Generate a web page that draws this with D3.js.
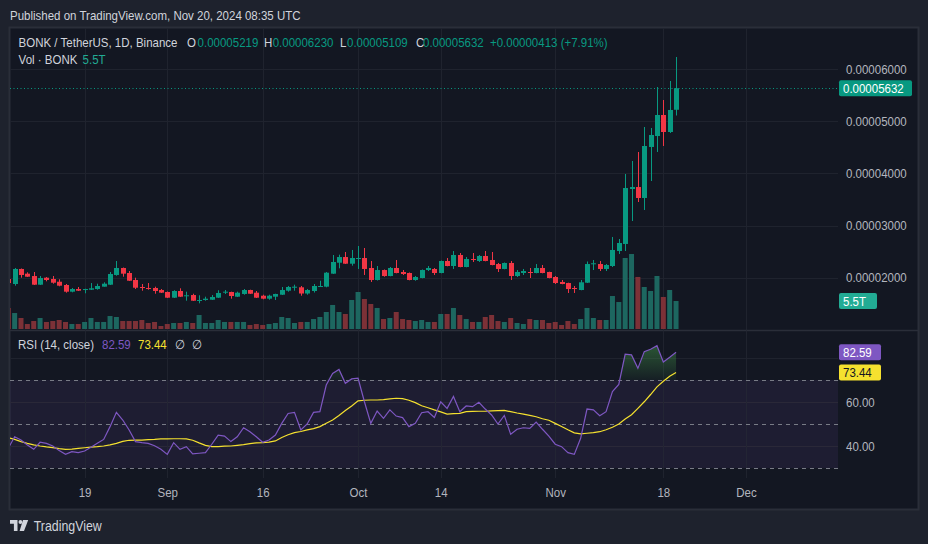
<!DOCTYPE html>
<html><head><meta charset="utf-8">
<script src="https://cdn.jsdelivr.net/npm/d3@7/dist/d3.min.js"></script>
<style>
html,body{margin:0;padding:0;background:#1e222d;}
svg{display:block;}
text{font-family:"Liberation Sans",Arial,sans-serif;}
</style></head><body>
<svg id="c" width="928" height="544"></svg>
<script>
// ---------------- DATA ----------------
const firstDay = new Date(Date.UTC(2024, 7, 7));   // Aug 7 2024
const lastDay  = new Date(Date.UTC(2024, 10, 20)); // Nov 20 2024

const open = [1.977e-5,1.881e-5,2.169e-5,2.079e-5,2.034e-5,1.868e-5,2.002e-5,1.977e-5,1.925e-5,1.862e-5,
1.734e-5,1.785e-5,1.780e-5,1.772e-5,1.785e-5,1.830e-5,1.868e-5,2.054e-5,2.188e-5,2.092e-5,
1.958e-5,1.824e-5,1.805e-5,1.805e-5,1.766e-5,1.728e-5,1.619e-5,1.747e-5,1.651e-5,1.670e-5,
1.561e-5,1.575e-5,1.580e-5,1.619e-5,1.715e-5,1.728e-5,1.638e-5,1.690e-5,1.766e-5,1.715e-5,
1.657e-5,1.600e-5,1.638e-5,1.676e-5,1.753e-5,1.810e-5,1.818e-5,1.699e-5,1.747e-5,1.830e-5,
1.830e-5,2.079e-5,2.289e-5,2.398e-5,2.270e-5,2.366e-5,2.379e-5,2.188e-5,1.958e-5,2.149e-5,
2.034e-5,2.188e-5,2.111e-5,2.092e-5,1.958e-5,1.996e-5,2.149e-5,2.169e-5,2.092e-5,2.322e-5,
2.226e-5,2.437e-5,2.207e-5,2.360e-5,2.322e-5,2.418e-5,2.341e-5,2.264e-5,2.169e-5,2.284e-5,
2.034e-5,2.092e-5,2.111e-5,2.092e-5,2.188e-5,2.111e-5,2.015e-5,1.920e-5,1.900e-5,1.805e-5,
1.766e-5,1.906e-5,2.264e-5,2.264e-5,2.169e-5,2.226e-5,2.513e-5,2.648e-5,3.701e-5,3.739e-5,
3.529e-5,4.506e-5,4.716e-5,5.119e-5,4.793e-5,5.219e-5];

const high = [1.996e-5,2.188e-5,2.178e-5,2.105e-5,2.111e-5,2.034e-5,2.015e-5,2.034e-5,1.971e-5,1.881e-5,
1.805e-5,1.824e-5,1.791e-5,1.900e-5,1.887e-5,1.914e-5,2.111e-5,2.322e-5,2.197e-5,2.130e-5,
2.002e-5,1.881e-5,1.900e-5,1.830e-5,1.785e-5,1.738e-5,1.761e-5,1.799e-5,1.734e-5,1.695e-5,
1.665e-5,1.638e-5,1.670e-5,1.761e-5,1.766e-5,1.734e-5,1.734e-5,1.785e-5,1.772e-5,1.747e-5,
1.676e-5,1.676e-5,1.695e-5,1.824e-5,1.843e-5,1.868e-5,1.843e-5,1.785e-5,1.881e-5,1.944e-5,
2.111e-5,2.437e-5,2.443e-5,2.494e-5,2.533e-5,2.609e-5,2.571e-5,2.322e-5,2.226e-5,2.159e-5,
2.207e-5,2.341e-5,2.149e-5,2.102e-5,2.034e-5,2.159e-5,2.226e-5,2.188e-5,2.331e-5,2.379e-5,
2.513e-5,2.475e-5,2.398e-5,2.475e-5,2.437e-5,2.513e-5,2.494e-5,2.284e-5,2.293e-5,2.322e-5,
2.149e-5,2.169e-5,2.188e-5,2.264e-5,2.245e-5,2.117e-5,2.034e-5,1.958e-5,1.906e-5,1.843e-5,
1.958e-5,2.312e-5,2.341e-5,2.322e-5,2.264e-5,2.782e-5,2.743e-5,3.989e-5,4.238e-5,4.410e-5,
4.889e-5,4.870e-5,5.655e-5,5.406e-5,5.770e-5,6.230e-5];

const low = [1.881e-5,1.849e-5,2.002e-5,2.015e-5,1.862e-5,1.862e-5,1.933e-5,1.887e-5,1.837e-5,1.715e-5,
1.722e-5,1.747e-5,1.703e-5,1.766e-5,1.772e-5,1.830e-5,1.862e-5,2.040e-5,2.021e-5,1.939e-5,
1.785e-5,1.753e-5,1.772e-5,1.695e-5,1.709e-5,1.613e-5,1.613e-5,1.632e-5,1.561e-5,1.556e-5,
1.511e-5,1.561e-5,1.575e-5,1.613e-5,1.690e-5,1.600e-5,1.632e-5,1.676e-5,1.690e-5,1.613e-5,
1.588e-5,1.580e-5,1.575e-5,1.670e-5,1.734e-5,1.753e-5,1.657e-5,1.676e-5,1.718e-5,1.824e-5,
1.818e-5,2.073e-5,2.182e-5,2.264e-5,2.232e-5,2.169e-5,2.054e-5,1.920e-5,1.948e-5,2.021e-5,
2.029e-5,2.086e-5,2.054e-5,1.952e-5,1.944e-5,1.990e-5,2.130e-5,2.054e-5,2.086e-5,2.220e-5,
2.169e-5,2.201e-5,2.201e-5,2.303e-5,2.303e-5,2.316e-5,2.239e-5,2.111e-5,2.163e-5,1.958e-5,
2.015e-5,2.054e-5,1.996e-5,2.086e-5,2.086e-5,1.990e-5,1.881e-5,1.876e-5,1.709e-5,1.709e-5,
1.761e-5,1.900e-5,2.149e-5,2.130e-5,2.130e-5,2.207e-5,2.456e-5,2.513e-5,3.088e-5,3.452e-5,
3.299e-5,3.854e-5,4.410e-5,4.525e-5,4.774e-5,5.109e-5];

const close = [1.900e-5,2.169e-5,2.054e-5,2.021e-5,1.868e-5,1.996e-5,1.958e-5,1.906e-5,1.849e-5,1.734e-5,
1.785e-5,1.753e-5,1.785e-5,1.799e-5,1.843e-5,1.887e-5,2.073e-5,2.188e-5,2.079e-5,1.944e-5,
1.810e-5,1.810e-5,1.791e-5,1.747e-5,1.715e-5,1.619e-5,1.747e-5,1.638e-5,1.665e-5,1.561e-5,
1.575e-5,1.600e-5,1.632e-5,1.709e-5,1.734e-5,1.651e-5,1.715e-5,1.766e-5,1.695e-5,1.619e-5,
1.600e-5,1.657e-5,1.690e-5,1.766e-5,1.824e-5,1.830e-5,1.699e-5,1.766e-5,1.843e-5,1.843e-5,
2.098e-5,2.303e-5,2.398e-5,2.270e-5,2.379e-5,2.379e-5,2.169e-5,1.958e-5,2.149e-5,2.034e-5,
2.188e-5,2.092e-5,2.073e-5,1.958e-5,2.015e-5,2.149e-5,2.188e-5,2.092e-5,2.322e-5,2.226e-5,
2.437e-5,2.207e-5,2.360e-5,2.347e-5,2.418e-5,2.322e-5,2.245e-5,2.169e-5,2.284e-5,2.034e-5,
2.111e-5,2.130e-5,2.092e-5,2.188e-5,2.092e-5,1.996e-5,1.900e-5,1.881e-5,1.785e-5,1.785e-5,
1.914e-5,2.264e-5,2.278e-5,2.169e-5,2.245e-5,2.533e-5,2.667e-5,3.720e-5,3.739e-5,3.529e-5,
4.525e-5,4.736e-5,5.119e-5,4.793e-5,5.215e-5,5.632e-5];

const volume = [4.13e12,3.14e12,2.16e12,0.98e12,1.57e12,2.16e12,1.38e12,1.57e12,1.77e12,1.38e12,
0.98e12,0.98e12,1.38e12,2.16e12,1.38e12,1.38e12,2.55e12,2.36e12,1.57e12,1.57e12,
1.57e12,1.77e12,1.18e12,1.38e12,0.59e12,0.98e12,1.18e12,1.18e12,1.38e12,1.18e12,
2.75e12,1.18e12,1.18e12,1.77e12,1.38e12,1.38e12,1.38e12,1.38e12,0.79e12,0.98e12,
0.79e12,0.98e12,1.18e12,2.36e12,2.16e12,1.18e12,1.38e12,1.38e12,1.96e12,2.36e12,
3.34e12,4.72e12,3.34e12,2.95e12,5.70e12,7.27e12,5.89e12,4.91e12,4.13e12,1.96e12,
2.16e12,3.34e12,1.96e12,1.77e12,1.57e12,1.77e12,1.38e12,1.38e12,2.95e12,2.95e12,
4.13e12,2.75e12,1.96e12,1.38e12,1.38e12,2.36e12,2.75e12,1.57e12,1.38e12,2.16e12,
1.18e12,0.98e12,1.96e12,1.77e12,1.77e12,1.18e12,1.38e12,0.79e12,1.57e12,0.98e12,
1.96e12,4.13e12,2.16e12,1.77e12,1.77e12,6.48e12,5.30e12,13.95e12,14.73e12,10.22e12,
8.25e12,7.47e12,10.41e12,6.29e12,7.66e12,5.50e12];

const rsi = [39,44.2,42.7,40.5,38.5,41.7,41.2,40,37.9,36.2,
37.4,37,37.7,39.4,41.2,43,48.8,55.3,51.8,47.3,
42,41.5,41.2,40.1,38.5,36.2,41.5,38.5,39.7,36.4,
36.7,37,40.8,44.9,44.5,42,44.2,48.3,46.5,44.2,
41.7,42.7,45,50.3,54.8,55.3,47.3,50,55.3,55.6,
67.7,73,74.8,68.5,70.5,70.8,60.1,50.3,55.9,52.6,
56.4,53.6,52.9,48.8,50.3,55.1,55.6,53,60.1,57.1,
62.5,55.6,58.2,57.9,59.9,56.8,54.1,50,53.9,45.3,
47.6,48.3,48,50.9,47.6,44.5,40.8,39.7,37,36.2,
43.5,56.8,56.4,53.8,55.6,64.7,68,81.7,81.4,75.3,
82.9,84,85.6,78.2,80.3,82.59];

const rsiMa = [43.8,43.0,42,41.2,40.5,40,39.6,39.3,38.8,38.5,
38.6,38.9,39.2,39.5,39.7,40,40.5,41.2,42.1,42.6,
42.7,42.7,42.9,43,43.2,43.2,43.3,43.3,43.2,42.6,
41.4,40.3,39.7,39.7,39.9,40,40.3,40.6,41.1,41.4,
41.5,41.8,42.3,43.9,45.1,46.1,46.6,47.3,47.9,48.8,
50.3,51.8,53.9,56.1,58.2,60.5,60.8,60.9,60.9,61.1,
61.4,61.7,61.5,60.8,59.7,58.3,57.4,56.4,55.5,54.5,
54.7,54.8,55.6,55.7,55.8,55.8,56,56.1,56.2,55.6,
55,54.5,53.9,53.3,52.4,51.7,50.3,48.9,47.4,46,
45.5,45.8,46.1,46.5,47.4,48.5,50,52.3,54.2,57.1,
60.1,63.4,66.9,69.4,71.7,73.44];

const priceTicks = [2e-5, 3e-5, 4e-5, 5e-5, 6e-5];
const rsiTicks = [40, 60];
const rsiGrid = [40, 60, 80];
const rsiLevels = [30, 50, 70];
const timeTicks = [new Date(Date.UTC(2024,7,19)), new Date(Date.UTC(2024,8,1)), new Date(Date.UTC(2024,8,16)),
  new Date(Date.UTC(2024,9,1)), new Date(Date.UTC(2024,9,14)), new Date(Date.UTC(2024,10,1)),
  new Date(Date.UTC(2024,10,18)), new Date(Date.UTC(2024,11,1))];
const timeTickLabels = ["19","Sep","16","Oct","14","Nov","18","Dec"];

// ---------------- LAYOUT ----------------
const SX = 0.885;            // horizontal text compression of the reference
const L = 10, R = 838, FR = 918, TOP = 28, PANE = 330, RB = 478, BOT = 509;
const C = {
  bg:"#1e222d", plot:"#131722", border:"#2a2e39", grid:"#1f232e",
  text:"#d1d4dc", axis:"#b2b5be", up:"#089981", down:"#f23645",
  volUp:"#1d6760", volDown:"#7c3137", purple:"#7e57c2", yellow:"#f5e12f"
};

const dates = d3.utcDay.range(firstDay, d3.utcDay.offset(lastDay, 1));
const bars = dates.map((d,i)=>({date:d,o:open[i],h:high[i],l:low[i],c:close[i],v:volume[i],r:rsi[i],m:rsiMa[i]}));

const x = d3.scaleUtc().domain([timeTicks[0], timeTicks[7]]).range([84.6, 746]);
const y = d3.scaleLinear().domain([2e-5, 6e-5]).range([277.8, 69]);
const yv = d3.scaleLinear().domain([0, 5.5e12]).range([329, 301]);
const yr = d3.scaleLinear().domain([30, 70]).range([468, 380]);

const svg = d3.select("#c");
const defs = svg.append("defs");
defs.append("clipPath").attr("id","cpMain").append("rect").attr("x",L).attr("y",TOP).attr("width",R-L).attr("height",PANE-TOP);
defs.append("clipPath").attr("id","cpRsi").append("rect").attr("x",L).attr("y",PANE).attr("width",R-L).attr("height",RB-PANE);
const grad = defs.append("linearGradient").attr("id","obGrad").attr("gradientUnits","userSpaceOnUse")
  .attr("x1",0).attr("x2",0).attr("y1",yr(100)).attr("y2",yr(70));
grad.append("stop").attr("offset","0%").attr("stop-color","#4caf50").attr("stop-opacity",0.75);
grad.append("stop").attr("offset","100%").attr("stop-color","#4caf50").attr("stop-opacity",0.05);

svg.append("rect").attr("width",928).attr("height",544).attr("fill",C.bg);
svg.append("rect").attr("x",L-0.5).attr("y",TOP-0.5).attr("width",FR-L+1).attr("height",BOT-TOP+1)
  .attr("fill",C.plot).attr("stroke",C.border).attr("stroke-width",2);

function ctext(g, tx, ty, s, fill, size, anchor, weight) {
  return g.append("text").attr("transform",`translate(${tx},${ty}) scale(${SX},1)`)
    .attr("fill",fill).attr("font-size",size||13).attr("text-anchor",anchor||"start")
    .attr("font-weight",weight||"normal").text(s);
}

// grid
const grid = svg.append("g");
grid.selectAll(".vg").data(timeTicks).join("line")
  .attr("x1",d=>Math.round(x(d))+0.5).attr("x2",d=>Math.round(x(d))+0.5).attr("y1",TOP).attr("y2",RB)
  .attr("stroke",C.grid);
grid.selectAll(".hg").data(priceTicks).join("line")
  .attr("x1",L).attr("x2",R).attr("y1",d=>Math.round(y(d))+0.5).attr("y2",d=>Math.round(y(d))+0.5)
  .attr("stroke",C.grid);

// pane separator
svg.append("line").attr("x1",L).attr("x2",FR).attr("y1",PANE+0.5).attr("y2",PANE+0.5).attr("stroke",C.border).attr("stroke-width",1.5);

// ---- main pane
const main = svg.append("g").attr("clip-path","url(#cpMain)");
const bw = 5;
main.selectAll(".vol").data(bars).join("rect")
  .attr("x",d=>x(d.date)-bw/2).attr("width",bw)
  .attr("y",d=>yv(d.v)).attr("height",d=>yv(0)-yv(d.v))
  .attr("fill",d=>d.c>=d.o?C.volUp:C.volDown);
main.selectAll(".wick").data(bars).join("line")
  .attr("x1",d=>Math.round(x(d.date))+0.5).attr("x2",d=>Math.round(x(d.date))+0.5)
  .attr("y1",d=>y(d.h)).attr("y2",d=>y(d.l))
  .attr("stroke",d=>d.c>=d.o?C.up:C.down).attr("stroke-width",1);
main.selectAll(".body").data(bars).join("rect")
  .attr("x",d=>Math.round(x(d.date))+0.5-bw/2).attr("width",bw)
  .attr("y",d=>y(Math.max(d.o,d.c))).attr("height",d=>Math.max(1,Math.abs(y(d.o)-y(d.c))))
  .attr("fill",d=>d.c>=d.o?C.up:C.down);
const last = bars[bars.length-1];
main.append("line").attr("x1",L).attr("x2",R).attr("y1",Math.round(y(last.c))+0.5).attr("y2",Math.round(y(last.c))+0.5)
  .attr("stroke",C.up).attr("stroke-dasharray","1,2.5");

// ---- RSI pane
const rp = svg.append("g").attr("clip-path","url(#cpRsi)");
rp.append("rect").attr("x",L).attr("width",R-L).attr("y",yr(70)).attr("height",yr(30)-yr(70))
  .attr("fill","rgba(126,87,194,0.1)");
rp.selectAll(".rg").data(rsiGrid).join("line")
  .attr("x1",L).attr("x2",R).attr("y1",d=>Math.round(yr(d))+0.5).attr("y2",d=>Math.round(yr(d))+0.5)
  .attr("stroke",d=>d===80?C.grid:"#2a2838");
rp.selectAll(".rvg").data(timeTicks).join("line")
  .attr("x1",d=>Math.round(x(d))+0.5).attr("x2",d=>Math.round(x(d))+0.5).attr("y1",PANE).attr("y2",RB)
  .attr("stroke",C.grid).attr("stroke-opacity",0.6);
rp.selectAll(".lv").data(rsiLevels).join("line")
  .attr("x1",L).attr("x2",R).attr("y1",d=>Math.round(yr(d))+0.5).attr("y2",d=>Math.round(yr(d))+0.5)
  .attr("stroke","#787b86").attr("stroke-dasharray","4,4");
const ob = d3.area().x(d=>x(d.date)).y0(yr(70)).y1(d=>yr(Math.max(70,d.r))).curve(d3.curveLinear);
rp.append("path").datum(bars).attr("d",ob).attr("fill","url(#obGrad)");
rp.append("path").datum(bars).attr("d",d3.line().x(d=>x(d.date)).y(d=>yr(d.m)))
  .attr("fill","none").attr("stroke",C.yellow).attr("stroke-width",1.2);
rp.append("path").datum(bars).attr("d",d3.line().x(d=>x(d.date)).y(d=>yr(d.r)))
  .attr("fill","none").attr("stroke",C.purple).attr("stroke-width",1.2);

// ---- axes
const pa = svg.append("g").attr("transform",`translate(${R},0)`)
  .call(d3.axisRight(y).tickValues(priceTicks).tickSize(0).tickFormat(d3.format(".8f")));
pa.select(".domain").remove();
pa.selectAll("text").attr("x",8/SX).attr("transform",`scale(${SX},1)`).attr("fill",C.axis)
  .attr("font-size",13).attr("font-family","Liberation Sans, Arial, sans-serif");

const ra = svg.append("g").attr("transform",`translate(${R},0)`)
  .call(d3.axisRight(yr).tickValues(rsiTicks).tickSize(0).tickFormat(d3.format(".2f")));
ra.select(".domain").remove();
ra.selectAll("text").attr("x",8/SX).attr("transform",`scale(${SX},1)`).attr("fill",C.axis)
  .attr("font-size",13).attr("font-family","Liberation Sans, Arial, sans-serif");

const xa = svg.append("g").attr("transform",`translate(0,${RB})`)
  .call(d3.axisBottom(x).tickValues(timeTicks).tickSize(0).tickPadding(10).tickFormat((d,i)=>timeTickLabels[i]));
xa.select(".domain").remove();
xa.selectAll("text").attr("transform",`scale(${SX},1)`).attr("fill",C.axis)
  .attr("font-size",13).attr("font-family","Liberation Sans, Arial, sans-serif");

// ---- last value labels
function tag(cy, w, fill, txt, tfill) {
  svg.append("rect").attr("x",R+1).attr("y",cy-8).attr("width",w).attr("height",16).attr("rx",2).attr("fill",fill);
  ctext(svg, R+5, cy+4.5, txt, tfill, 13);
}
tag(y(last.c), 73, C.up, d3.format(".8f")(last.c), "#ffffff");
tag(yv(last.v), 38, "#22ab94", d3.format(".2s")(last.v).replace("G","B"), "#ffffff");
tag(yr(last.r), 42, C.purple, d3.format(".2f")(last.r), "#ffffff");
tag(yr(last.m), 42, C.yellow, d3.format(".2f")(last.m), "#131722");

// ---- legends
ctext(svg, 10, 19.5, "Published on TradingView.com, Nov 20, 2024 08:35 UTC", C.text, 13);
const first = bars[bars.length-2];
const chg = last.c - first.c;
ctext(svg, 18.6, 47, "BONK / TetherUS, 1D, Binance", C.text, 13);
ctext(svg, 187, 47, "O", C.text, 13);
ctext(svg, 197.6, 47, d3.format(".8f")(last.o), C.up, 13);
ctext(svg, 264, 47, "H", C.text, 13);
ctext(svg, 272.7, 47, d3.format(".8f")(last.h), C.up, 13);
ctext(svg, 340, 47, "L", C.text, 13);
ctext(svg, 347, 47, d3.format(".8f")(last.l), C.up, 13);
ctext(svg, 416, 47, "C", C.text, 13);
ctext(svg, 423, 47, d3.format(".8f")(last.c), C.up, 13);
ctext(svg, 490, 47, "+0.00000413 (+7.91%)", C.up, 13);
ctext(svg, 18.6, 63.5, "Vol · BONK", C.text, 13);
ctext(svg, 82.6, 63.5, "5.5T", "#22ab94", 13);

ctext(svg, 18, 349, "RSI (14, close)", C.text, 13);
ctext(svg, 102, 349, d3.format(".2f")(last.r), C.purple, 13);
ctext(svg, 138, 349, d3.format(".2f")(last.m), C.yellow, 13);
ctext(svg, 175, 349, "∅", C.text, 13);
ctext(svg, 192, 349, "∅", C.text, 13);

// ---- footer logo
const logo = svg.append("g").attr("fill","#d1d4dc");
logo.append("path").attr("d","M10,520 h7.5 v11 h-3.6 v-7.3 h-3.9 z");
logo.append("circle").attr("cx",20.4).attr("cy",522).attr("r",1.9);
logo.append("path").attr("d","M23,520 h5.2 l-4.2,11 h-4.4 z");
ctext(svg, 33.7, 531, "TradingView", "#d1d4dc", 14);
</script>
</body></html>
